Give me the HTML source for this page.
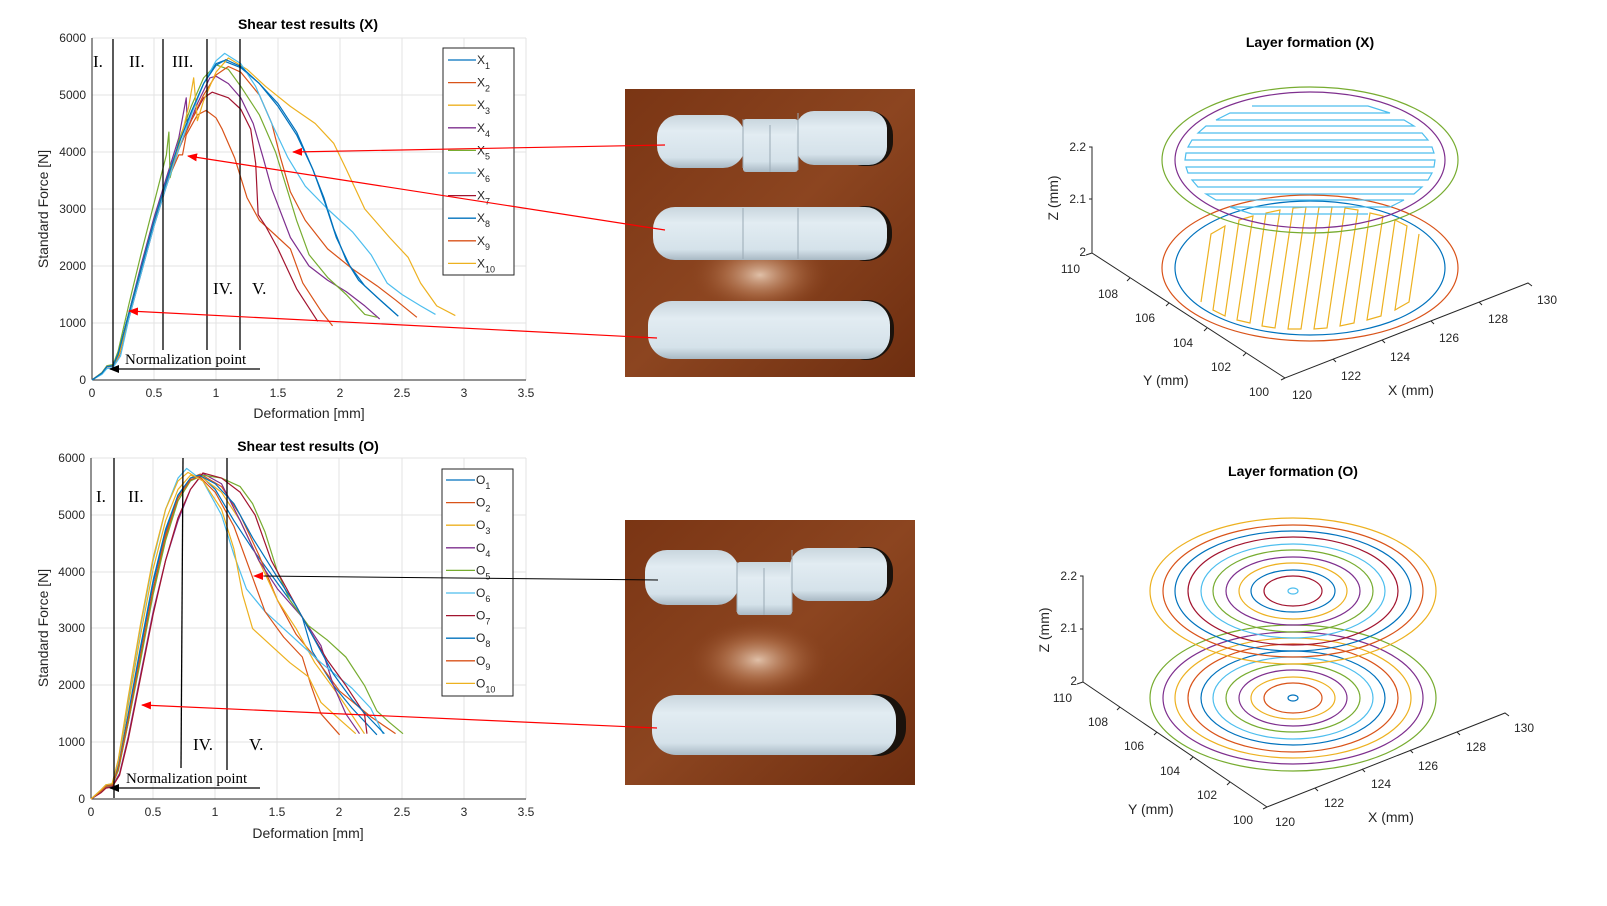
<!DOCTYPE html>
<html><head><meta charset="utf-8"><style>
body{margin:0;background:#fff}
svg{display:block}
.t{font-family:"Liberation Sans",sans-serif;font-size:12px;fill:#262626}
.ti{font-family:"Liberation Sans",sans-serif;font-size:14px;font-weight:bold;fill:#000}
.lab{font-family:"Liberation Sans",sans-serif;font-size:14px;fill:#262626}
.ser{font-family:"Liberation Serif",serif;font-size:17px;fill:#000}
.c{fill:none;stroke-width:1.2;vector-effect:non-scaling-stroke;stroke-linejoin:round}
.g{stroke:#e3e3e3;stroke-width:1}
</style></head><body>
<svg width="1607" height="906" viewBox="0 0 1607 906" xmlns="http://www.w3.org/2000/svg">
<defs>
<marker id="ar" markerWidth="10" markerHeight="8" refX="9" refY="4" orient="auto" markerUnits="userSpaceOnUse"><path d="M0,0 L10,4 L0,8 z" fill="#f00"/></marker>
<marker id="ak" markerWidth="10" markerHeight="8" refX="9" refY="4" orient="auto" markerUnits="userSpaceOnUse"><path d="M0,0 L10,4 L0,8 z" fill="#000"/></marker>
<linearGradient id="wood" x1="0" y1="0" x2="1" y2="1"><stop offset="0" stop-color="#7a3514"/><stop offset="0.5" stop-color="#8c4520"/><stop offset="1" stop-color="#6e2e10"/></linearGradient>
<radialGradient id="glare" cx="0.5" cy="0.5" r="0.5"><stop offset="0" stop-color="#e0c0a8"/><stop offset="0.5" stop-color="#b77a55" stop-opacity="0.6"/><stop offset="1" stop-color="#8c4520" stop-opacity="0"/></radialGradient>
<linearGradient id="cyl" x1="0" y1="0" x2="0" y2="1"><stop offset="0" stop-color="#c9d6de"/><stop offset="0.3" stop-color="#e2ecf2"/><stop offset="0.8" stop-color="#d5e2ea"/><stop offset="1" stop-color="#a9b9c4"/></linearGradient>
</defs>

<text class="ti" x="308" y="29" text-anchor="middle">Shear test results (X)</text>
<g>
<line class="g" x1="154" y1="38" x2="154" y2="380"/><line class="g" x1="216" y1="38" x2="216" y2="380"/><line class="g" x1="278" y1="38" x2="278" y2="380"/><line class="g" x1="340" y1="38" x2="340" y2="380"/><line class="g" x1="402" y1="38" x2="402" y2="380"/><line class="g" x1="464" y1="38" x2="464" y2="380"/><line class="g" x1="526" y1="38" x2="526" y2="380"/>
<line class="g" x1="92" y1="323" x2="526" y2="323"/><line class="g" x1="92" y1="266" x2="526" y2="266"/><line class="g" x1="92" y1="209" x2="526" y2="209"/><line class="g" x1="92" y1="152" x2="526" y2="152"/><line class="g" x1="92" y1="95" x2="526" y2="95"/><line class="g" x1="92" y1="38" x2="526" y2="38"/>
</g>
<line x1="92" y1="38" x2="92" y2="380" stroke="#262626"/><line x1="92" y1="380" x2="526" y2="380" stroke="#262626"/>
<g class="t" text-anchor="end">
<text x="86" y="384">0</text><text x="86" y="327">1000</text><text x="86" y="270">2000</text><text x="86" y="213">3000</text><text x="86" y="156">4000</text><text x="86" y="99">5000</text><text x="86" y="42">6000</text></g>
<g class="t" text-anchor="middle">
<text x="92" y="397">0</text><text x="154" y="397">0.5</text><text x="216" y="397">1</text><text x="278" y="397">1.5</text><text x="340" y="397">2</text><text x="402" y="397">2.5</text><text x="464" y="397">3</text><text x="526" y="397">3.5</text></g>
<text class="lab" x="309" y="418" text-anchor="middle">Deformation [mm]</text>
<text class="lab" x="0" y="0" text-anchor="middle" transform="translate(48,209) rotate(-90)">Standard Force [N]</text>

<g transform="translate(92,380) scale(124,-0.057)">
<polyline class="c" stroke="#D95319" points="0,0 0.08,130 0.12,240 0.17,250 0.22,460 0.3,1150 0.4,1950 0.5,2750 0.6,3450 0.7,3950 0.73,3950 0.76,4300 0.85,4650 0.92,4730 1.0,4600 1.05,4400 1.15,3900 1.25,3200 1.35,2800 1.5,2500 1.6,2300 1.7,1700 1.85,1200 1.94,950"/>
<polyline class="c" stroke="#A2142F" points="0,0 0.08,120 0.12,230 0.17,250 0.22,430 0.3,1100 0.4,1900 0.5,2700 0.6,3400 0.7,4050 0.8,4550 0.9,4950 0.97,5050 1.1,4950 1.2,4750 1.28,4400 1.32,3800 1.34,2900 1.4,2700 1.5,2300 1.65,1600 1.82,1030"/>
<polyline class="c" stroke="#7E2F8E" points="0,0 0.08,120 0.12,240 0.17,250 0.21,450 0.3,1200 0.4,2050 0.5,2850 0.6,3550 0.7,4250 0.76,4950 0.77,4400 0.85,4850 0.95,5300 1.0,5330 1.1,5200 1.2,4950 1.3,4500 1.38,3900 1.45,3350 1.6,2500 1.75,2000 1.9,1750 2.05,1550 2.2,1300 2.32,1070"/>
<polyline class="c" stroke="#77AC30" points="0,0 0.08,130 0.12,250 0.17,270 0.21,500 0.3,1350 0.4,2250 0.5,3100 0.6,3950 0.62,4350 0.63,3550 0.7,4200 0.8,4800 0.9,5300 1.0,5530 1.1,5450 1.2,5150 1.35,4650 1.48,4000 1.58,3300 1.65,2800 1.75,2200 1.9,1800 2.05,1500 2.2,1150 2.3,1100"/>
<polyline class="c" stroke="#0072BD" points="0,0 0.08,120 0.12,240 0.17,255 0.21,450 0.3,1200 0.4,2000 0.5,2800 0.6,3500 0.7,4150 0.8,4700 0.9,5200 1.0,5550 1.06,5600 1.2,5480 1.35,5200 1.5,4800 1.65,4300 1.78,3700 1.87,3200 1.95,2650 2.05,2100 2.15,1750 2.3,1450 2.47,1120"/>
<polyline class="c" stroke="#D95319" points="0,0 0.08,110 0.12,230 0.17,245 0.22,430 0.3,1150 0.4,1950 0.5,2750 0.6,3450 0.7,4050 0.8,4550 0.9,5000 1.0,5350 1.1,5500 1.2,5400 1.35,5000 1.45,4500 1.52,3900 1.6,3300 1.72,2800 1.9,2300 2.1,1950 2.3,1650 2.45,1400 2.62,1100"/>
<polyline class="c" stroke="#EDB120" points="0,0 0.08,120 0.12,240 0.17,250 0.22,450 0.3,1180 0.4,1980 0.5,2780 0.6,3480 0.7,4100 0.78,4800 0.82,5300 0.85,4550 0.9,4900 1.0,5400 1.1,5650 1.25,5450 1.4,5150 1.6,4800 1.8,4500 1.95,4150 2.05,3700 2.2,3000 2.4,2500 2.55,2150 2.65,1700 2.78,1300 2.93,1130"/>
<polyline class="c" stroke="#4DBEEE" points="0,0 0.08,100 0.12,200 0.17,220 0.23,420 0.3,1100 0.4,1900 0.5,2700 0.6,3400 0.7,4050 0.8,4650 0.9,5200 1.0,5600 1.07,5730 1.2,5550 1.32,5150 1.45,4500 1.58,3900 1.72,3400 1.9,3000 2.1,2600 2.25,2200 2.38,1700 2.5,1500 2.65,1300 2.77,1150"/>
<polyline class="c" stroke="#0072BD" points="0,0 0.08,120 0.12,235 0.17,250 0.21,440 0.3,1180 0.4,1980 0.5,2780 0.6,3480 0.7,4150 0.8,4700 0.9,5200 1.0,5520 1.08,5620 1.2,5500 1.35,5200 1.5,4850 1.65,4350 1.78,3700 1.88,3100 1.97,2500 2.08,2000 2.2,1650 2.35,1350 2.47,1120"/>
</g>
<g stroke="#000" stroke-width="1.3">
<line x1="113" y1="39" x2="113" y2="370"/><line x1="163" y1="39" x2="163" y2="350"/><line x1="207" y1="39" x2="207" y2="350"/><line x1="240" y1="39" x2="240" y2="350"/></g>
<text class="ser" x="93" y="67">I.</text><text class="ser" x="129" y="67">II.</text><text class="ser" x="172" y="67">III.</text>
<text class="ser" x="213" y="294">IV.</text><text class="ser" x="252" y="294">V.</text>
<text class="ser" x="125" y="364" style="font-size:15px">Normalization point</text>
<line x1="260" y1="369" x2="110" y2="369" stroke="#000" stroke-width="1.2" marker-end="url(#ak)"/>
<rect x="443" y="48" width="71" height="227" fill="#fff" stroke="#262626"/>
<g stroke-width="1.3">
<line x1="448" x2="476" y1="60" y2="60" stroke="#0072BD"/><line x1="448" x2="476" y1="82.6" y2="82.6" stroke="#D95319"/><line x1="448" x2="476" y1="105.2" y2="105.2" stroke="#EDB120"/><line x1="448" x2="476" y1="127.8" y2="127.8" stroke="#7E2F8E"/><line x1="448" x2="476" y1="150.4" y2="150.4" stroke="#77AC30"/><line x1="448" x2="476" y1="173" y2="173" stroke="#4DBEEE"/><line x1="448" x2="476" y1="195.6" y2="195.6" stroke="#A2142F"/><line x1="448" x2="476" y1="218.2" y2="218.2" stroke="#0072BD"/><line x1="448" x2="476" y1="240.8" y2="240.8" stroke="#D95319"/><line x1="448" x2="476" y1="263.4" y2="263.4" stroke="#EDB120"/></g>
<g class="t"><text x="477" y="64">X<tspan dy="5" font-size="9">1</tspan></text><text x="477" y="86.6">X<tspan dy="5" font-size="9">2</tspan></text><text x="477" y="109.2">X<tspan dy="5" font-size="9">3</tspan></text><text x="477" y="131.8">X<tspan dy="5" font-size="9">4</tspan></text><text x="477" y="154.4">X<tspan dy="5" font-size="9">5</tspan></text><text x="477" y="177">X<tspan dy="5" font-size="9">6</tspan></text><text x="477" y="199.6">X<tspan dy="5" font-size="9">7</tspan></text><text x="477" y="222.2">X<tspan dy="5" font-size="9">8</tspan></text><text x="477" y="244.8">X<tspan dy="5" font-size="9">9</tspan></text><text x="477" y="267.4">X<tspan dy="5" font-size="9">10</tspan></text></g>

<text class="ti" x="308" y="451" text-anchor="middle">Shear test results (O)</text>
<g>
<line class="g" x1="153" y1="458" x2="153" y2="799"/><line class="g" x1="215" y1="458" x2="215" y2="799"/><line class="g" x1="277" y1="458" x2="277" y2="799"/><line class="g" x1="339" y1="458" x2="339" y2="799"/><line class="g" x1="402" y1="458" x2="402" y2="799"/><line class="g" x1="464" y1="458" x2="464" y2="799"/><line class="g" x1="526" y1="458" x2="526" y2="799"/>
<line class="g" x1="91" y1="742" x2="526" y2="742"/><line class="g" x1="91" y1="685" x2="526" y2="685"/><line class="g" x1="91" y1="628" x2="526" y2="628"/><line class="g" x1="91" y1="572" x2="526" y2="572"/><line class="g" x1="91" y1="515" x2="526" y2="515"/><line class="g" x1="91" y1="458" x2="526" y2="458"/>
</g>
<line x1="91" y1="458" x2="91" y2="799" stroke="#262626"/><line x1="91" y1="799" x2="526" y2="799" stroke="#262626"/>
<g class="t" text-anchor="end">
<text x="85" y="803">0</text><text x="85" y="746">1000</text><text x="85" y="689">2000</text><text x="85" y="632">3000</text><text x="85" y="576">4000</text><text x="85" y="519">5000</text><text x="85" y="462">6000</text></g>
<g class="t" text-anchor="middle">
<text x="91" y="816">0</text><text x="153" y="816">0.5</text><text x="215" y="816">1</text><text x="277" y="816">1.5</text><text x="339" y="816">2</text><text x="402" y="816">2.5</text><text x="464" y="816">3</text><text x="526" y="816">3.5</text></g>
<text class="lab" x="308" y="838" text-anchor="middle">Deformation [mm]</text>
<text class="lab" x="0" y="0" text-anchor="middle" transform="translate(48,628) rotate(-90)">Standard Force [N]</text>

<g transform="translate(91,799) scale(124.3,-0.0568)">
<polyline class="c" stroke="#0072BD" points="0,0 0.08,150 0.12,220 0.17,240 0.22,600 0.3,1500 0.4,2700 0.5,3850 0.6,4750 0.7,5350 0.8,5650 0.88,5700 1.0,5450 1.15,4900 1.3,4400 1.5,3800 1.7,3200 1.78,2600 1.95,2000 2.1,1600 2.3,1130"/>
<polyline class="c" stroke="#D95319" points="0,0 0.08,140 0.12,230 0.17,245 0.22,520 0.3,1350 0.4,2500 0.5,3650 0.6,4600 0.7,5300 0.8,5650 0.88,5720 1.05,5500 1.2,5000 1.35,4300 1.5,3500 1.65,2900 1.8,2500 2.0,1900 2.25,1450 2.45,1150"/>
<polyline class="c" stroke="#EDB120" points="0,0 0.08,150 0.12,240 0.17,260 0.22,650 0.3,1650 0.4,2900 0.5,4050 0.6,4900 0.7,5450 0.8,5700 0.9,5650 1.05,5400 1.2,4900 1.35,4200 1.5,3500 1.65,3000 1.8,2400 2.0,1800 2.2,1150"/>
<polyline class="c" stroke="#7E2F8E" points="0,0 0.08,120 0.12,200 0.17,220 0.23,450 0.3,1100 0.4,2200 0.5,3300 0.6,4200 0.7,4900 0.8,5450 0.9,5730 1.05,5550 1.2,4900 1.35,4200 1.5,3700 1.7,3200 1.85,2700 1.95,2000 2.05,1500 2.16,1150"/>
<polyline class="c" stroke="#77AC30" points="0,0 0.08,130 0.12,220 0.17,240 0.22,500 0.3,1350 0.4,2450 0.5,3600 0.6,4550 0.7,5250 0.8,5600 0.9,5700 1.05,5650 1.2,5500 1.3,5200 1.4,4700 1.5,4000 1.6,3500 1.75,3050 1.9,2800 2.05,2500 2.2,2000 2.3,1550 2.4,1350 2.51,1150"/>
<polyline class="c" stroke="#4DBEEE" points="0,0 0.08,160 0.12,250 0.17,270 0.22,680 0.3,1750 0.4,3050 0.5,4200 0.6,5100 0.7,5650 0.77,5820 0.9,5600 1.05,5000 1.15,4300 1.25,3700 1.4,3300 1.6,2900 1.85,2400 2.1,1950 2.25,1600 2.35,1150"/>
<polyline class="c" stroke="#A2142F" points="0,0 0.08,110 0.12,190 0.17,210 0.23,420 0.3,1050 0.4,2150 0.5,3250 0.6,4200 0.7,4950 0.8,5450 0.9,5740 1.05,5650 1.2,5400 1.32,5000 1.45,4200 1.6,3600 1.75,3000 1.9,2450 2.05,2000 2.2,1500 2.22,1150"/>
<polyline class="c" stroke="#0072BD" points="0,0 0.08,140 0.12,230 0.17,250 0.22,560 0.3,1450 0.4,2650 0.5,3800 0.6,4700 0.7,5350 0.8,5650 0.87,5700 1.0,5550 1.15,5200 1.3,4600 1.5,3900 1.65,3400 1.8,2800 1.95,2200 2.1,1750 2.25,1400 2.36,1150"/>
<polyline class="c" stroke="#D95319" points="0,0 0.08,140 0.12,225 0.17,245 0.22,540 0.3,1400 0.4,2550 0.5,3700 0.6,4650 0.7,5300 0.8,5620 0.87,5680 1.0,5400 1.15,4800 1.3,3900 1.4,3300 1.55,2850 1.7,2500 1.77,2000 1.85,1500 2.0,1130"/>
<polyline class="c" stroke="#EDB120" points="0,0 0.08,160 0.12,250 0.17,270 0.22,700 0.3,1800 0.4,3100 0.5,4250 0.6,5100 0.7,5600 0.78,5750 0.9,5600 1.05,5100 1.15,4400 1.22,3600 1.3,3000 1.45,2700 1.6,2400 1.75,2150 1.85,1700 2.0,1400 2.13,1150"/>
</g>
<g stroke="#000" stroke-width="1.3">
<line x1="114" y1="458" x2="114" y2="798"/><line x1="183" y1="458" x2="181" y2="768"/><line x1="227" y1="458" x2="227" y2="770"/></g>
<text class="ser" x="96" y="502">I.</text><text class="ser" x="128" y="502">II.</text>
<text class="ser" x="193" y="750">IV.</text><text class="ser" x="249" y="750">V.</text>
<text class="ser" x="126" y="783" style="font-size:15px">Normalization point</text>
<line x1="260" y1="788" x2="110" y2="788" stroke="#000" stroke-width="1.2" marker-end="url(#ak)"/>
<rect x="442" y="469" width="71" height="227" fill="#fff" stroke="#262626"/>
<g stroke-width="1.3">
<line x1="446" x2="475" y1="480" y2="480" stroke="#0072BD"/><line x1="446" x2="475" y1="502.6" y2="502.6" stroke="#D95319"/><line x1="446" x2="475" y1="525.2" y2="525.2" stroke="#EDB120"/><line x1="446" x2="475" y1="547.8" y2="547.8" stroke="#7E2F8E"/><line x1="446" x2="475" y1="570.4" y2="570.4" stroke="#77AC30"/><line x1="446" x2="475" y1="593" y2="593" stroke="#4DBEEE"/><line x1="446" x2="475" y1="615.6" y2="615.6" stroke="#A2142F"/><line x1="446" x2="475" y1="638.2" y2="638.2" stroke="#0072BD"/><line x1="446" x2="475" y1="660.8" y2="660.8" stroke="#D95319"/><line x1="446" x2="475" y1="683.4" y2="683.4" stroke="#EDB120"/></g>
<g class="t"><text x="476" y="484">O<tspan dy="5" font-size="9">1</tspan></text><text x="476" y="506.6">O<tspan dy="5" font-size="9">2</tspan></text><text x="476" y="529.2">O<tspan dy="5" font-size="9">3</tspan></text><text x="476" y="551.8">O<tspan dy="5" font-size="9">4</tspan></text><text x="476" y="574.4">O<tspan dy="5" font-size="9">5</tspan></text><text x="476" y="597">O<tspan dy="5" font-size="9">6</tspan></text><text x="476" y="619.6">O<tspan dy="5" font-size="9">7</tspan></text><text x="476" y="642.2">O<tspan dy="5" font-size="9">8</tspan></text><text x="476" y="664.8">O<tspan dy="5" font-size="9">9</tspan></text><text x="476" y="687.4">O<tspan dy="5" font-size="9">10</tspan></text></g>

<rect x="625" y="89" width="290" height="288" fill="url(#wood)"/>
<ellipse cx="760" cy="275" rx="70" ry="40" fill="url(#glare)"/>
<g fill="#1a120c"><rect x="840" y="111" width="53" height="55" rx="24"/><rect x="840" y="206" width="52" height="55" rx="26"/><rect x="840" y="300" width="54" height="60" rx="28"/></g>
<g fill="url(#cyl)">
<rect x="657" y="115" width="88" height="53" rx="22"/><rect x="743" y="119" width="55" height="53" rx="3"/><rect x="796" y="111" width="91" height="54" rx="18"/>
<rect x="653" y="207" width="234" height="53" rx="22"/>
<rect x="648" y="301" width="242" height="58" rx="24"/></g>
<g stroke="#9aaab5" stroke-width="1"><line x1="743" y1="119" x2="743" y2="168"/><line x1="798" y1="113" x2="798" y2="170"/><line x1="770" y1="125" x2="770" y2="172"/><line x1="743" y1="208" x2="743" y2="259"/><line x1="798" y1="208" x2="798" y2="259"/></g>

<rect x="625" y="520" width="290" height="265" fill="url(#wood)"/>
<ellipse cx="758" cy="660" rx="70" ry="40" fill="url(#glare)"/>
<g fill="#1a120c"><rect x="840" y="547" width="53" height="54" rx="24"/><rect x="850" y="694" width="56" height="62" rx="28"/></g>
<g fill="url(#cyl)">
<rect x="645" y="550" width="94" height="55" rx="22"/><rect x="737" y="562" width="55" height="53" rx="3"/><rect x="790" y="548" width="97" height="53" rx="18"/>
<rect x="652" y="695" width="244" height="60" rx="24"/></g>
<g stroke="#9aaab5" stroke-width="1"><line x1="737" y1="562" x2="737" y2="612"/><line x1="792" y1="550" x2="792" y2="612"/><line x1="764" y1="568" x2="764" y2="615"/></g>

<g stroke="#f00" stroke-width="1.2">
<line x1="665" y1="145" x2="293" y2="152" marker-end="url(#ar)"/>
<line x1="665" y1="230" x2="188" y2="156" marker-end="url(#ar)"/>
<line x1="657" y1="338" x2="129" y2="311" marker-end="url(#ar)"/>
<line x1="657" y1="728" x2="142" y2="705" marker-end="url(#ar)"/>
</g>
<line x1="658" y1="580" x2="262" y2="576" stroke="#000" stroke-width="1"/>
<line x1="264" y1="576" x2="254" y2="576" stroke="#f00" marker-end="url(#ar)"/>

<text class="ti" x="1310" y="47" text-anchor="middle">Layer formation (X)</text>
<g stroke="#262626" stroke-width="1" fill="none">
<polyline points="1089,147 1092,147 1092,253 1285,378 1528,283 1532,286"/>
<line x1="1092" y1="253" x2="1086" y2="255"/><line x1="1092" y1="199" x2="1089" y2="199"/>
<line x1="1130" y1="278" x2="1127" y2="281"/><line x1="1169" y1="303" x2="1166" y2="306"/><line x1="1207" y1="328" x2="1204" y2="331"/><line x1="1246" y1="353" x2="1243" y2="356"/><line x1="1285" y1="378" x2="1281" y2="380"/>
<line x1="1333" y1="359" x2="1336" y2="362"/><line x1="1382" y1="340" x2="1385" y2="343"/><line x1="1431" y1="321" x2="1434" y2="324"/><line x1="1479" y1="302" x2="1482" y2="305"/>
</g>
<g class="t" text-anchor="end"><text x="1086" y="151">2.2</text><text x="1086" y="203">2.1</text><text x="1086" y="256">2</text>
<text x="1080" y="273">110</text><text x="1118" y="298">108</text><text x="1155" y="322">106</text><text x="1193" y="347">104</text><text x="1231" y="371">102</text><text x="1269" y="396">100</text></g>
<g class="t"><text x="1292" y="399">120</text><text x="1341" y="380">122</text><text x="1390" y="361">124</text><text x="1439" y="342">126</text><text x="1488" y="323">128</text><text x="1537" y="304">130</text></g>
<text class="lab" x="1143" y="385">Y (mm)</text><text class="lab" x="1388" y="395">X (mm)</text>
<text class="lab" x="0" y="0" text-anchor="middle" transform="translate(1058,198) rotate(-90)">Z (mm)</text>
<g fill="none" stroke-width="1.2">
<ellipse cx="1310" cy="268" rx="148" ry="73" stroke="#D95319"/>
<ellipse cx="1310" cy="268" rx="135" ry="67" stroke="#0072BD"/>
<polyline stroke="#EDB120" points="1201,302 1211,234 1225,226 1213,310 1225,316 1239,220 1253,216 1237,320 1250,323 1266,213 1280,210 1262,326 1275,328 1293,208 1306,207 1288,329 1301,329 1319,207 1332,207 1314,329 1327,328 1345,208 1358,210 1340,326 1354,323 1370,213 1383,216 1367,320 1381,316 1395,220 1407,226 1395,310 1409,302 1419,234"/>
<ellipse cx="1310" cy="160" rx="148" ry="73" stroke="#77AC30"/>
<ellipse cx="1310" cy="160" rx="135" ry="68" stroke="#7E2F8E"/>
<polyline stroke="#4DBEEE" points="1252,106 1368,106 1390,113 1230,113 1216,120 1404,120 1414,126 1206,126 1198,133 1422,133 1428,140 1192,140 1188,147 1432,147 1434,153 1186,153 1185,160 1435,160 1434,167 1186,167 1188,173 1432,173 1428,180 1192,180 1198,187 1422,187 1414,194 1206,194 1216,200 1404,200 1390,207 1230,207 1252,214 1368,214"/>
</g>

<text class="ti" x="1293" y="476" text-anchor="middle">Layer formation (O)</text>
<g stroke="#262626" stroke-width="1" fill="none">
<polyline points="1080,576 1083,576 1083,682 1267,807 1505,713 1509,716"/>
<line x1="1083" y1="682" x2="1077" y2="684"/><line x1="1083" y1="629" x2="1080" y2="629"/>
<line x1="1120" y1="707" x2="1117" y2="710"/><line x1="1157" y1="732" x2="1154" y2="735"/><line x1="1193" y1="757" x2="1190" y2="760"/><line x1="1230" y1="782" x2="1227" y2="785"/><line x1="1267" y1="807" x2="1263" y2="809"/>
<line x1="1315" y1="788" x2="1318" y2="791"/><line x1="1362" y1="769" x2="1365" y2="772"/><line x1="1410" y1="750" x2="1413" y2="753"/><line x1="1457" y1="732" x2="1460" y2="735"/>
</g>
<g class="t" text-anchor="end"><text x="1077" y="580">2.2</text><text x="1077" y="632">2.1</text><text x="1077" y="685">2</text>
<text x="1072" y="702">110</text><text x="1108" y="726">108</text><text x="1144" y="750">106</text><text x="1180" y="775">104</text><text x="1217" y="799">102</text><text x="1253" y="824">100</text></g>
<g class="t"><text x="1275" y="826">120</text><text x="1324" y="807">122</text><text x="1371" y="788">124</text><text x="1418" y="770">126</text><text x="1466" y="751">128</text><text x="1514" y="732">130</text></g>
<text class="lab" x="1128" y="814">Y (mm)</text><text class="lab" x="1368" y="822">X (mm)</text>
<text class="lab" x="0" y="0" text-anchor="middle" transform="translate(1049,630) rotate(-90)">Z (mm)</text>
<g fill="none" stroke-width="1.2">
<ellipse cx="1293" cy="698" rx="143" ry="73" stroke="#77AC30"/>
<ellipse cx="1293" cy="698" rx="130" ry="66" stroke="#7E2F8E"/>
<ellipse cx="1293" cy="698" rx="118" ry="60" stroke="#EDB120"/>
<ellipse cx="1293" cy="698" rx="105" ry="54" stroke="#D95319"/>
<ellipse cx="1293" cy="698" rx="92" ry="47" stroke="#0072BD"/>
<ellipse cx="1293" cy="698" rx="80" ry="41" stroke="#4DBEEE"/>
<ellipse cx="1293" cy="698" rx="67" ry="34" stroke="#77AC30"/>
<ellipse cx="1293" cy="698" rx="54" ry="28" stroke="#7E2F8E"/>
<ellipse cx="1293" cy="698" rx="42" ry="21" stroke="#EDB120"/>
<ellipse cx="1293" cy="698" rx="29" ry="15" stroke="#D95319"/>
<ellipse cx="1293" cy="698" rx="5" ry="3" stroke="#0072BD"/>
<ellipse cx="1293" cy="591" rx="143" ry="73" stroke="#EDB120"/>
<ellipse cx="1293" cy="591" rx="130" ry="66" stroke="#D95319"/>
<ellipse cx="1293" cy="591" rx="118" ry="60" stroke="#0072BD"/>
<ellipse cx="1293" cy="591" rx="105" ry="54" stroke="#A2142F"/>
<ellipse cx="1293" cy="591" rx="92" ry="47" stroke="#4DBEEE"/>
<ellipse cx="1293" cy="591" rx="80" ry="41" stroke="#77AC30"/>
<ellipse cx="1293" cy="591" rx="67" ry="34" stroke="#7E2F8E"/>
<ellipse cx="1293" cy="591" rx="54" ry="28" stroke="#EDB120"/>
<ellipse cx="1293" cy="591" rx="42" ry="21" stroke="#0072BD"/>
<ellipse cx="1293" cy="591" rx="29" ry="15" stroke="#A2142F"/>
<ellipse cx="1293" cy="591" rx="5" ry="3" stroke="#4DBEEE"/>
</g>
</svg>
</body></html>
